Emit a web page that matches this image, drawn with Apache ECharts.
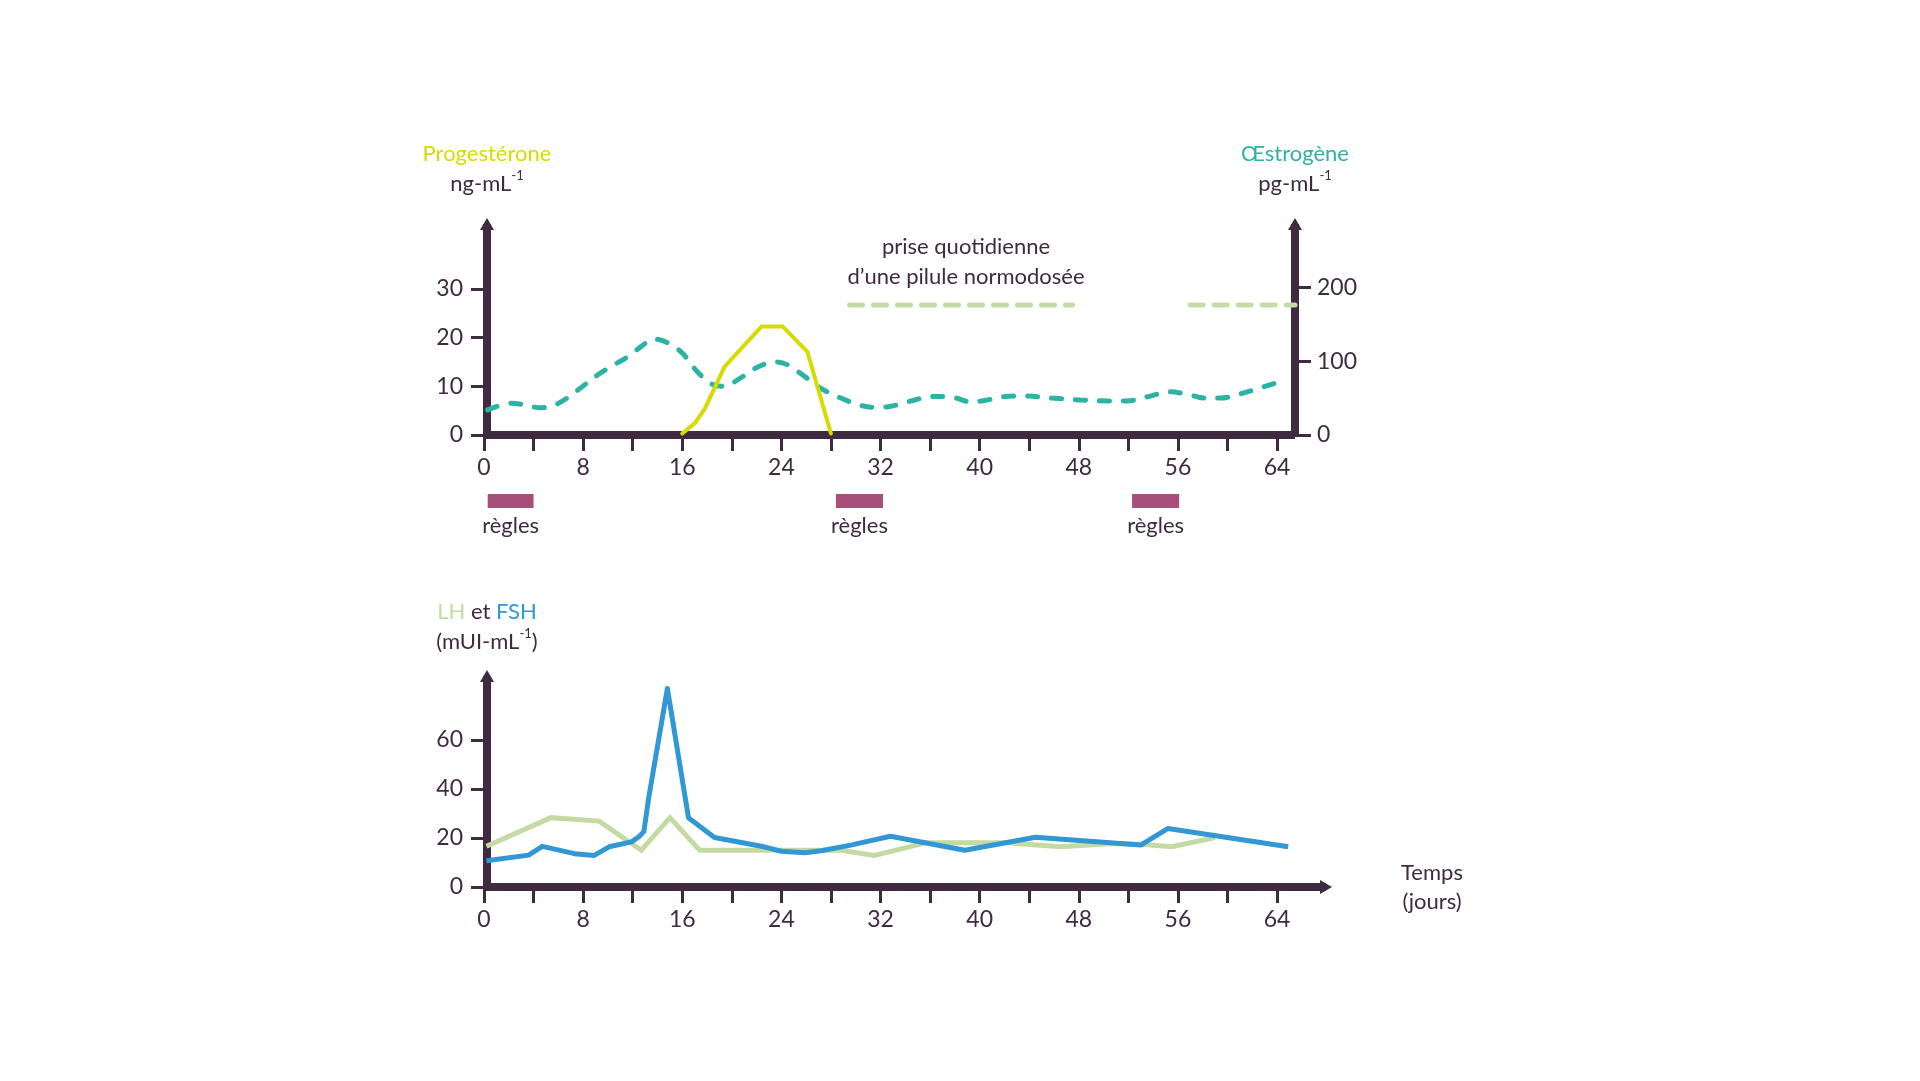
<!DOCTYPE html>
<html>
<head>
<meta charset="utf-8">
<script src="https://cdn.jsdelivr.net/npm/echarts@6/dist/echarts.min.js"></script>
<style>
html,body{margin:0;padding:0;background:#ffffff;}
#chart{width:1920px;height:1081px;}
</style>
</head>
<body>
<div id="chart"></div>
<script>
// ---------- data ----------
const xTickValues = [0,4,8,12,16,20,24,28,32,36,40,44,48,52,56,60,64];
const xLabelValues = [0,8,16,24,32,40,48,56,64];
const progTicks = [0,10,20,30];
const estroTicks = [0,100,200];
const lhTicks = [0,20,40,60];

const progesterone = [[16,0.3],[17,2.4],[17.8,5.3],[18.6,9.6],[19.4,14],[22.4,22.3],[24.1,22.3],[26.1,17.1],[28,0.3]];
const estrogen = [[0.3,34],[2.2,43],[4.6,37],[5.9,42],[7.5,60],[9.4,84],[11.6,106],[12.7,120],[13.7,130],[14.8,125],[16,111],[17.2,86],[18.5,68],[19.4,66],[20.5,75],[22.1,92],[23.6,99],[24.5,95],[25.9,79],[27.2,63],[28.8,50],[30.2,41],[31.4,37.5],[32.5,38],[34.2,45],[36.3,52],[37.1,52],[38,50.5],[39.2,45],[40.3,46.5],[42,52],[43.5,53],[45.8,50],[48.1,47.5],[50.4,46],[52.1,46.5],[53.6,52],[55.3,58.5],[56.8,55],[58.2,50],[59.4,50],[61.1,56],[64,71]];
const pillA = [[29.5,176],[47.5,176]];
const pillB = [[57,176],[65.45,176]];
const regles = [[0.3,4.0],[28.4,32.2],[52.3,56.1]];
const lh = [[0.2,16.6],[5.4,28.3],[9.3,26.9],[12.7,15],[15,28.3],[17.4,15],[28.8,15],[31.5,12.9],[35.7,18.1],[42.2,18.1],[46.5,16.4],[50.8,17.7],[53,17.4],[55.5,16.4],[59,20.2]];
const fsh = [[0.2,10.7],[3.6,13],[4.7,16.6],[7.3,13.6],[8.9,12.9],[10.1,16.4],[11.9,18.4],[12.5,20.5],[12.9,22.6],[13.3,36.7],[14.8,81],[16.5,28.3],[18.6,20.2],[22.6,16.4],[24,14.6],[25.9,14],[27.2,14.8],[29.6,17.1],[32.8,20.7],[38.8,15],[44.5,20.3],[53,17.1],[55.2,23.9],[64.9,16.4]];

// ---------- styles ----------
const DARK = '#3f2a41';
const YELLOW = '#d7db00';
const TEAL = '#2bb4a3';
const PILL = '#c6dca6';
const LHC = '#c3dba2';
const BLUE = '#3297d5';
const MAUVE = '#a84e7b';
const FONT = 'Lato';
const FS = 22;
const FST = 23;

const chart = echarts.init(document.getElementById('chart'));

function axisLine(arrow){
  return {show:true, onZero:true, symbol: arrow ? ['none','triangle'] : ['none','none'], symbolSize:[14,12],
          lineStyle:{color:DARK, width:8, cap:'butt'}};
}
const tickStyle = {show:true, inside:false, length:16, lineStyle:{color:DARK, width:3}};
const labelStyle = {color:DARK, fontFamily:FONT, fontSize:FST};
const richBase = {
  d:{color:DARK, fontFamily:FONT, fontSize:FS, lineHeight:30},
  s:{color:DARK, fontFamily:FONT, fontSize:13, lineHeight:16, verticalAlign:'top'},
  y:{color:YELLOW, fontFamily:FONT, fontSize:FS, lineHeight:30},
  t:{color:TEAL, fontFamily:FONT, fontSize:FS, lineHeight:30},
  g:{color:LHC, fontFamily:FONT, fontSize:FS, lineHeight:30},
  b:{color:BLUE, fontFamily:FONT, fontSize:FS, lineHeight:30}
};

function xAxisCfg(grid, max, arrow, name){
  return {
    type:'value', gridIndex:grid, min:0, max:max,
    axisLine:axisLine(arrow),
    axisTick:Object.assign({customValues:xTickValues}, tickStyle),
    axisLabel:Object.assign({customValues:xLabelValues, margin:21}, labelStyle),
    splitLine:{show:false},
    name:name||'', nameLocation:'end', nameGap:106,
    nameTextStyle:{color:DARK, fontFamily:FONT, fontSize:FS, lineHeight:29, align:'center', verticalAlign:'middle'}
  };
}

const option = {
  animation:false,
  backgroundColor:'#ffffff',
  grid:[
    {left:484, right:625, top:224, height:211},
    {left:484, right:594, top:676, height:211},
    {left:484, right:625, top:494, height:14}
  ],
  xAxis:[
    xAxisCfg(0, 65.45, false),
    xAxisCfg(1, 67.95, true, 'Temps\n(jours)'),
    {type:'value', gridIndex:2, min:0, max:65.45, show:false}
  ],
  yAxis:[
    {type:'value', gridIndex:0, position:'left', offset:-3, min:0, max:43.35,
     axisLine:axisLine(true),
     axisTick:Object.assign({customValues:progTicks}, tickStyle),
     axisLabel:Object.assign({customValues:progTicks, margin:24}, labelStyle),
     splitLine:{show:false},
     name:'{y|Progestérone}\n{d|ng-mL}{s|-1}', nameLocation:'end', nameGap:25,
     nameTextStyle:{rich:richBase, align:'center'}},
    {type:'value', gridIndex:0, position:'right', min:0, max:285.7,
     axisLine:axisLine(true),
     axisTick:Object.assign({customValues:estroTicks}, tickStyle),
     axisLabel:Object.assign({customValues:estroTicks, margin:22}, labelStyle),
     splitLine:{show:false},
     name:'{t|Œstrogène}\n{d|pg-mL}{s|-1}', nameLocation:'end', nameGap:25,
     nameTextStyle:{rich:richBase, align:'center'}},
    {type:'value', gridIndex:1, position:'left', offset:-3, min:0, max:86.1,
     axisLine:axisLine(true),
     axisTick:Object.assign({customValues:lhTicks}, tickStyle),
     axisLabel:Object.assign({customValues:lhTicks, margin:24}, labelStyle),
     splitLine:{show:false},
     name:'{g|LH}{d| et }{b|FSH}\n{d|(mUI-mL}{s|-1}{d|)}', nameLocation:'end', nameGap:19,
     nameTextStyle:{rich:richBase, align:'center'}},
    {type:'value', gridIndex:2, min:0, max:1, show:false}
  ],
  series:[
    {type:'line', name:'Œstrogène', xAxisIndex:0, yAxisIndex:1, data:estrogen, smooth:0.35, symbol:'none',
     lineStyle:{color:TEAL, width:5, type:[10,14], cap:'round'}, z:3},
    {type:'line', name:'Progestérone', xAxisIndex:0, yAxisIndex:0, data:progesterone, symbol:'none',
     lineStyle:{color:YELLOW, width:4, cap:'round', join:'miter'}, z:4},
    {type:'line', name:'pilule1', xAxisIndex:0, yAxisIndex:1, data:pillA, symbol:'none',
     lineStyle:{color:PILL, width:5, type:[13,11], cap:'round'}, z:3},
    {type:'line', name:'pilule2', xAxisIndex:0, yAxisIndex:1, data:pillB, symbol:'none',
     lineStyle:{color:PILL, width:5, type:[13,11], cap:'round'}, z:3},
    {type:'line', name:'LH', xAxisIndex:1, yAxisIndex:2, data:lh, symbol:'none',
     lineStyle:{color:LHC, width:5, join:'miter'}, z:3},
    {type:'line', name:'FSH', xAxisIndex:1, yAxisIndex:2, data:fsh, symbol:'none',
     lineStyle:{color:BLUE, width:5, join:'round'}, z:4},
    {type:'custom', name:'règles', xAxisIndex:2, yAxisIndex:3, data:regles,
     renderItem:function(params, api){
       const p0 = api.coord([api.value(0), 1]);
       const p1 = api.coord([api.value(1), 0]);
       return {type:'group', children:[
         {type:'rect', shape:{x:p0[0], y:p0[1], width:p1[0]-p0[0], height:p1[1]-p0[1]}, style:{fill:MAUVE}},
         {type:'text', style:{text:'règles', x:(p0[0]+p1[0])/2, y:p1[1]+18, align:'center', verticalAlign:'middle',
           fontFamily:FONT, fontSize:FS, fill:DARK}}
       ]};
     }}
  ],
  graphic:[
    {type:'text', x:966, y:262, style:{text:'prise quotidienne\nd’une pilule normodosée', align:'center', verticalAlign:'middle',
      fontFamily:FONT, fontSize:FS, lineHeight:30, fill:DARK}}
  ]
};
chart.setOption(option);
</script>
</body>
</html>
